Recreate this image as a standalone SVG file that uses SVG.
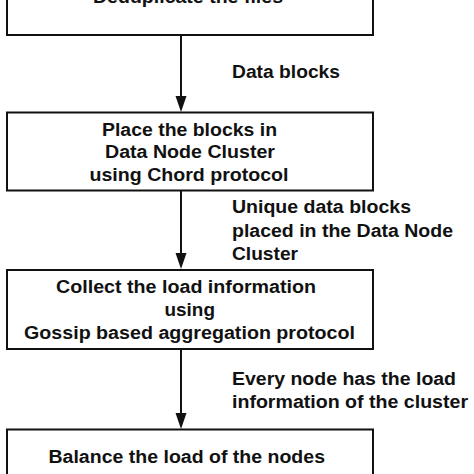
<svg xmlns="http://www.w3.org/2000/svg" width="474" height="474" viewBox="0 0 474 474">
<defs>
<style>
.box{fill:#fff;stroke:#111;stroke-width:2}
.t{font-family:"Liberation Sans",Arial,sans-serif;font-weight:bold;font-size:18px;fill:#111}
.c{stroke:#111;stroke-width:2;fill:none}
.h{fill:#111}
</style>
</defs>
<rect width="474" height="474" fill="#fff"/>
<g id="connectors">
<path class="c" d="M181,35 V96"/>
<path class="h" d="M175.5,96 L186.5,96 L181,112 Z"/>
<path class="c" d="M181,191 V253"/>
<path class="h" d="M175.5,253 L186.5,253 L181,269 Z"/>
<path class="c" d="M181,349 V413"/>
<path class="h" d="M175.5,413 L186.5,413 L181,429 Z"/>
<text class="t" x="232" y="78" textLength="108" lengthAdjust="spacingAndGlyphs">Data blocks</text>
<text class="t" x="232" y="213" textLength="179" lengthAdjust="spacingAndGlyphs">Unique data blocks</text>
<text class="t" x="232" y="236.5" textLength="221" lengthAdjust="spacingAndGlyphs">placed in the Data Node</text>
<text class="t" x="232" y="259.5" textLength="66" lengthAdjust="spacingAndGlyphs">Cluster</text>
<text class="t" x="232" y="385" textLength="224" lengthAdjust="spacingAndGlyphs">Every node has the load</text>
<text class="t" x="232" y="407.5" textLength="236" lengthAdjust="spacingAndGlyphs">information of the cluster</text>
</g>
<g id="node1">
<rect class="box" x="7" y="-40" width="366" height="75"/>
<text class="t" x="93" y="3" textLength="190" lengthAdjust="spacingAndGlyphs">Deduplicate the files</text>
</g>
<g id="node2">
<rect class="box" x="7" y="112.5" width="366" height="78"/>
<text class="t" x="102" y="135.5" textLength="175" lengthAdjust="spacingAndGlyphs">Place the blocks in</text>
<text class="t" x="105" y="158" textLength="170" lengthAdjust="spacingAndGlyphs">Data Node Cluster</text>
<text class="t" x="89.5" y="180.5" textLength="199" lengthAdjust="spacingAndGlyphs">using Chord protocol</text>
</g>
<g id="node3">
<rect class="box" x="7" y="270" width="366" height="79"/>
<text class="t" x="56" y="293" textLength="260" lengthAdjust="spacingAndGlyphs">Collect the load information</text>
<text class="t" x="164.5" y="315.5" textLength="50.5" lengthAdjust="spacingAndGlyphs">using</text>
<text class="t" x="24" y="338.5" textLength="331" lengthAdjust="spacingAndGlyphs">Gossip based aggregation protocol</text>
</g>
<g id="node4">
<rect class="box" x="7" y="429.5" width="366" height="80"/>
<text class="t" x="48.5" y="463" textLength="276.5" lengthAdjust="spacingAndGlyphs">Balance the load of the nodes</text>
</g>
</svg>
